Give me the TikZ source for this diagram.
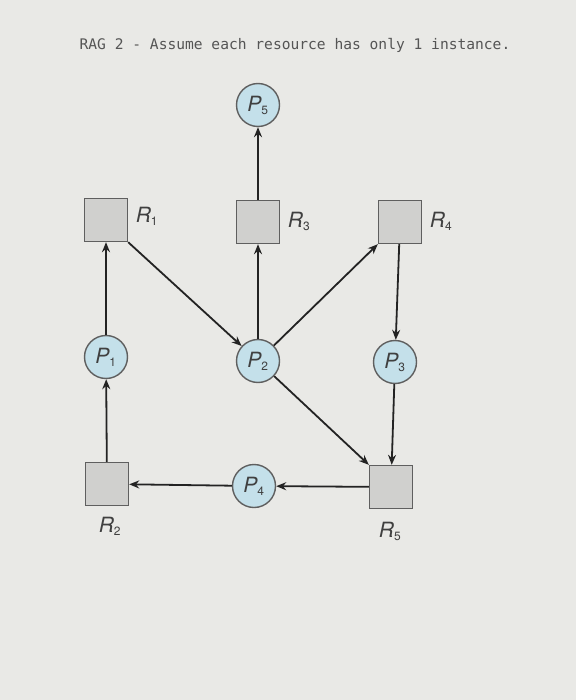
\documentclass[tikz,border=0pt]{standalone}
\usepackage{fontspec}
\newfontfamily\labfont{TeX Gyre Heros}
\newfontfamily\ttlfont{DejaVu Sans Mono}
\usetikzlibrary{arrows.meta}
\definecolor{bgc}{RGB}{233,233,230}
\definecolor{procfill}{RGB}{196,224,234}
\definecolor{resfill}{RGB}{208,208,206}
\definecolor{edgec}{RGB}{95,95,95}
\definecolor{arrc}{RGB}{35,35,35}
\definecolor{ttlc}{RGB}{85,85,85}
\newcommand{\sbs}[1]{\textsubscript{\upshape\fontsize{12}{12}\selectfont #1}}
\begin{document}
\begin{tikzpicture}[x=1pt,y=-1pt,
  proc/.style={circle,draw=edgec,line width=1.4pt,fill=procfill,minimum size=43pt,inner sep=0pt,font=\labfont\itshape\fontsize{21}{21}\selectfont,text=black!75},
  res/.style={rectangle,draw=edgec,line width=1.4pt,fill=resfill,minimum size=43pt,inner sep=0pt},
  lab/.style={font=\labfont\itshape\fontsize{21}{21}\selectfont,text=black!75},
  edge/.style={draw=arrc,line width=1.8pt,-{Stealth[length=10pt,width=8pt]}}]
\fill[bgc] (0,0) rectangle (576,700);
\useasboundingbox (0,0) rectangle (576,700);
\node[font=\ttlfont\fontsize{14.6}{16}\selectfont,text=ttlc] (title) at (295,45) {RAG 2 - Assume each resource has only 1 instance.};
% processes
\node[proc] (P5) at (258,105) {P\sbs{5}};
\node[proc] (P1) at (106,357) {P\sbs{1}};
\node[proc] (P2) at (258,361) {P\sbs{2}};
\node[proc] (P3) at (395,362) {P\sbs{3}};
\node[proc] (P4) at (254,486) {P\sbs{4}};
% resources
\node[res] (R1) at (106,220) {};
\node[res] (R3) at (258,222) {};
\node[res] (R4) at (400,222) {};
\node[res] (R2) at (107,484) {};
\node[res] (R5) at (391,487) {};
% labels
\node[lab] (L1) at (147,216) {R\sbs{1}};
\node[lab] (L3) at (299,221) {R\sbs{3}};
\node[lab] (L4) at (441,221) {R\sbs{4}};
\node[lab] (L2) at (110,526) {R\sbs{2}};
\node[lab] (L5) at (390,531) {R\sbs{5}};
% edges
\draw[edge] (R3) -- (P5);
\draw[edge] (P2) -- (R3);
\draw[edge] (R1.south east) -- (P2);
\draw[edge] (P2) -- (R4.south west);
\draw[edge] (R4) -- (P3);
\draw[edge] (P2) -- (R5.north west);
\draw[edge] (P3) -- (R5);
\draw[edge] (R5) -- (P4);
\draw[edge] (P4) -- (R2);
\draw[edge] (R2) -- (P1);
\draw[edge] (P1) -- (R1);
\end{tikzpicture}
\end{document}
